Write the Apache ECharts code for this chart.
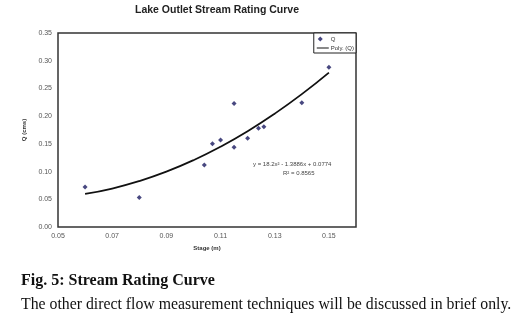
<!DOCTYPE html>
<html>
<head>
<meta charset="utf-8">
<script src="https://cdn.jsdelivr.net/npm/echarts@6/dist/echarts.min.js"></script>
<style>html,body{margin:0;padding:0;background:#fff;}#c{width:521px;height:322px;}</style>
</head>
<body>
<div id="c"></div>
<script>
// Measured points: stage (m) and discharge Q (cms)
var stage = [0.060, 0.080, 0.104, 0.107, 0.110, 0.115, 0.115, 0.120, 0.124, 0.126, 0.140, 0.150];
var discharge = [0.072, 0.053, 0.112, 0.150, 0.157, 0.223, 0.144, 0.160, 0.178, 0.181, 0.224, 0.288];
// Poly. (Q) trend curve
var trendStage = [0.06, 0.07, 0.08, 0.09, 0.10, 0.11, 0.12, 0.13, 0.14, 0.15];
var trendQ = [0.0596, 0.0694, 0.0828, 0.0998, 0.1205, 0.1449, 0.1728, 0.2045, 0.2397, 0.2786];
var xTickLabels = ['0.05', '0.07', '0.09', '0.11', '0.13', '0.15'];
var yTickLabels = ['0.00', '0.05', '0.10', '0.15', '0.20', '0.25', '0.30', '0.35'];

var chart = echarts.init(document.getElementById('c'), null, {renderer: 'canvas'});
var pts = stage.map(function (s, i) { return [s, discharge[i]]; });
var trend = trendStage.map(function (s, i) { return [s, trendQ[i]]; });
var labelFont = {fontFamily: 'Liberation Sans', fontSize: 7, color: '#555'};

chart.setOption({
  animation: false,
  backgroundColor: '#fff',
  grid: {left: 58, right: 165, top: 33, height: 194, show: true, borderColor: '#333', borderWidth: 1.5},
  legend: {
    orient: 'vertical', right: 165, top: 33,
    backgroundColor: '#fff', borderColor: '#222', borderWidth: 1,
    padding: [3, 2, 2, 3], itemGap: 3, itemWidth: 12, itemHeight: 5,
    symbolKeepAspect: true,
    textStyle: {fontFamily: 'Liberation Sans', fontSize: 6, color: '#333', padding: [0, 0, 0, -3]},
    data: [
      {name: 'Q', icon: 'path://M0,0 L0,0 M12,5 L12,5 M3.5,0 L6,2.5 L3.5,5 L1,2.5 Z', itemStyle: {color: '#1a1a60'}},
      {name: 'Poly. (Q)', icon: 'path://M0,0 L12,0 L12,1 L0,1 Z', itemStyle: {color: '#111'}}
    ]
  },
  xAxis: {
    type: 'value', min: 0.05, max: 0.16, interval: 0.01,
    name: 'Stage (m)', nameLocation: 'middle', nameGap: 18,
    nameTextStyle: {fontFamily: 'Liberation Sans', fontSize: 6, fontWeight: 'bold', color: '#333'},
    axisLine: {show: false}, axisTick: {show: false}, splitLine: {show: false},
    axisLabel: Object.assign({margin: 6, showMaxLabel: false, formatter: function (v) {
      var s = v.toFixed(2);
      return xTickLabels.indexOf(s) >= 0 ? s : '';
    }}, labelFont)
  },
  yAxis: {
    type: 'value', min: 0, max: 0.35, interval: 0.05,
    name: 'Q (cms)', nameLocation: 'middle', nameGap: 15, nameRotate: 90,
    nameTextStyle: {fontFamily: 'Liberation Sans', fontSize: 6, fontWeight: 'bold', color: '#333'},
    axisLine: {show: false}, axisTick: {show: false}, splitLine: {show: false},
    axisLabel: Object.assign({margin: 6, formatter: function (v) {
      var s = v.toFixed(2);
      return yTickLabels.indexOf(s) >= 0 ? s : '';
    }}, labelFont)
  },
  series: [
    {name: 'Q', type: 'scatter', data: pts, symbol: 'diamond', symbolSize: 5,
     itemStyle: {color: '#1a1a60'}, z: 3},
    {name: 'Poly. (Q)', type: 'line', data: trend, smooth: true, symbol: 'none',
     lineStyle: {color: '#111', width: 1.8}, itemStyle: {color: '#111'}, z: 2}
  ],
  graphic: [
    {type: 'text', x: 217, y: 5, style: {text: 'Lake Outlet Stream Rating Curve', align: 'center', fontFamily: 'Liberation Sans', fontWeight: 'bold', fontSize: 10.5, fill: '#222'}},
    {type: 'text', left: 253, top: 161, style: {text: 'y = 18.2x\u00b2 - 1.3886x + 0.0774', fontFamily: 'Liberation Sans', fontSize: 6, fill: '#444'}},
    {type: 'text', left: 283, top: 170, style: {text: 'R\u00b2 = 0.8565', fontFamily: 'Liberation Sans', fontSize: 6, fill: '#444'}},
    {type: 'text', left: 21, top: 273, style: {text: 'Fig. 5: Stream Rating Curve', fontFamily: 'Liberation Serif', fontWeight: 'bold', fontSize: 16, fill: '#111'}},
    {type: 'text', left: 21, top: 297, style: {text: 'The other direct flow measurement techniques will be discussed in brief only.', fontFamily: 'Liberation Serif', fontSize: 15.8, fill: '#111'}}
  ]
});
</script>
</body>
</html>
